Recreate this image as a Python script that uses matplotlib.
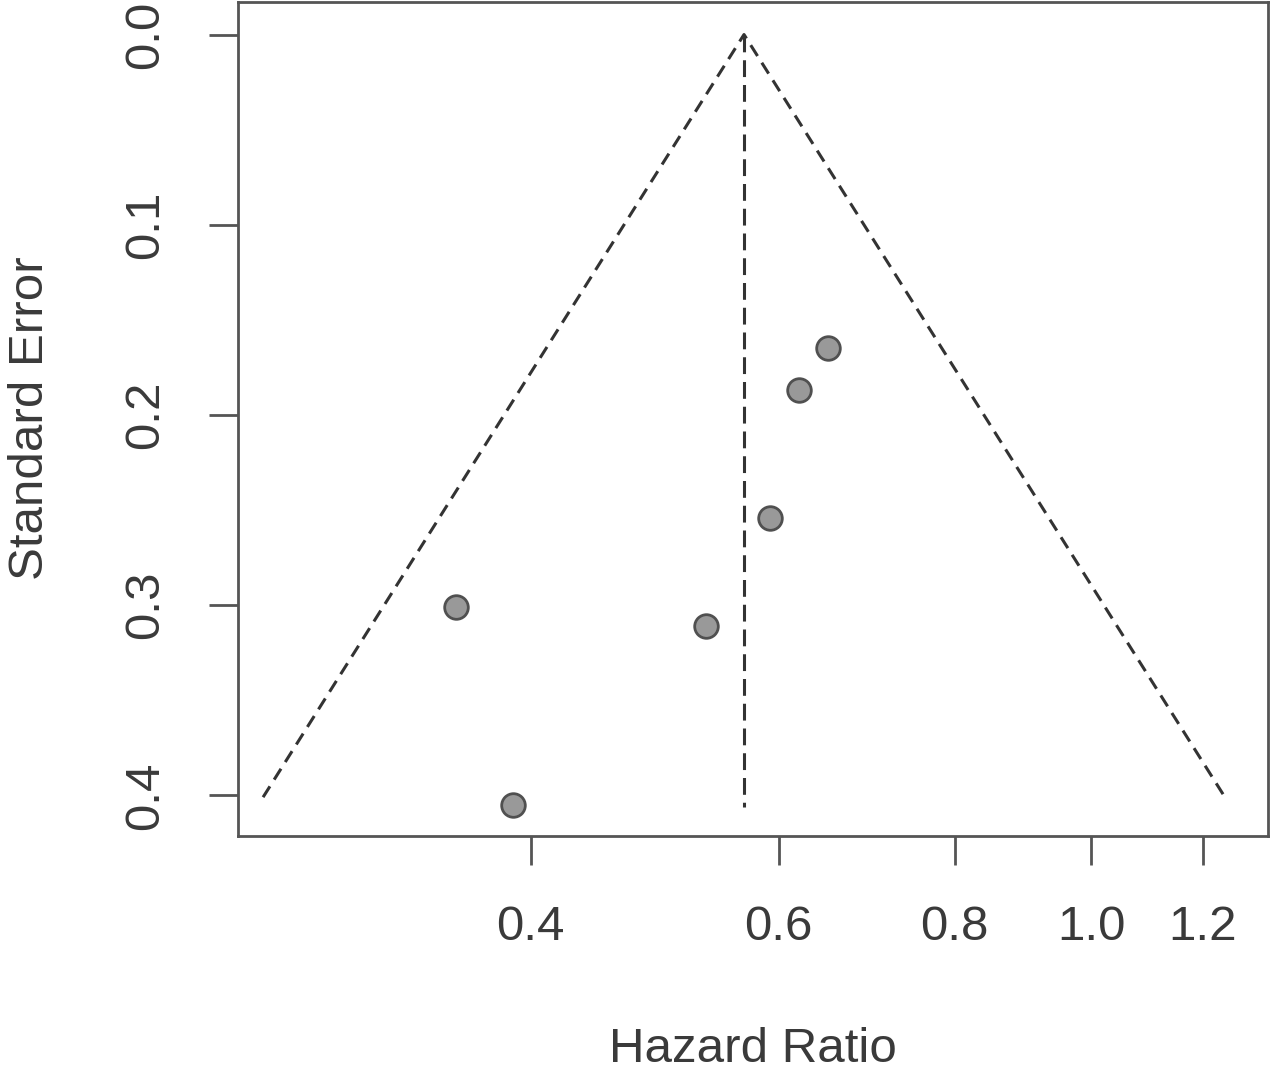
import matplotlib.pyplot as plt
import numpy as np

# study estimates
hazard_ratio = [0.354, 0.389, 0.533, 0.592, 0.620, 0.650]
std_error = [0.301, 0.405, 0.311, 0.254, 0.187, 0.165]
pooled_hr = 0.567
funnel_se = 0.401
ref_se = 0.406

x_ticks = [0.4, 0.6, 0.8, 1.0, 1.2]
x_tick_labels = ['0.4', '0.6', '0.8', '1.0', '1.2']
y_ticks = [0.0, 0.1, 0.2, 0.3, 0.4]
y_tick_labels = ['0.0', '0.1', '0.2', '0.3', '0.4']

plt.rcParams['font.family'] = ['Liberation Sans', 'DejaVu Sans']
text_col = '#3a3a3a'
line_col = '#555555'

fig = plt.figure(figsize=(12.8, 10.74), dpi=100)
ax = fig.add_axes([238 / 1280, 1 - 836 / 1074, 1030 / 1280, 834 / 1074])

# pseudo confidence funnel (straight on log scale)
lo = pooled_hr * np.exp(-1.96 * funnel_se)
hi = pooled_hr * np.exp(1.96 * funnel_se)
ax.plot([lo, pooled_hr, hi], [funnel_se, 0, funnel_se], color='#333333',
        lw=2.2, dashes=(4.2, 2.6))
ax.plot([pooled_hr, pooled_hr], [0, ref_se], color='#333333', lw=2.2,
        dashes=(5.5, 2.6))

ax.scatter(hazard_ratio, std_error, s=17 ** 2, facecolor='#999999',
           edgecolor='#505050', linewidth=2.0, zorder=3)

ax.set_xscale('log')
ax.set_xlim(0.248, 1.335)
ax.set_ylim(0.4214, -0.0171)
ax.xaxis.set_major_locator(plt.FixedLocator(x_ticks))
ax.xaxis.set_minor_locator(plt.NullLocator())
ax.set_xticks(x_ticks, x_tick_labels)
ax.set_yticks(y_ticks, y_tick_labels)
for lab in ax.get_yticklabels():
    lab.set_rotation(90)
    lab.set_va('center')

ax.tick_params(length=21, width=2.0, color=line_col, labelsize=35.5,
               labelcolor=text_col, pad=29)
for sp in ax.spines.values():
    sp.set_linewidth(2.0)
    sp.set_color(line_col)

fig.text(753 / 1280, 1 - 1050 / 1074, 'Hazard Ratio', ha='center', va='center',
         fontsize=35.5, color=text_col)
fig.text(31 / 1280, 1 - 418 / 1074, 'Standard Error', ha='center', va='center',
         rotation=90, fontsize=35.5, color=text_col)

fig.savefig('out.png', dpi=100)
